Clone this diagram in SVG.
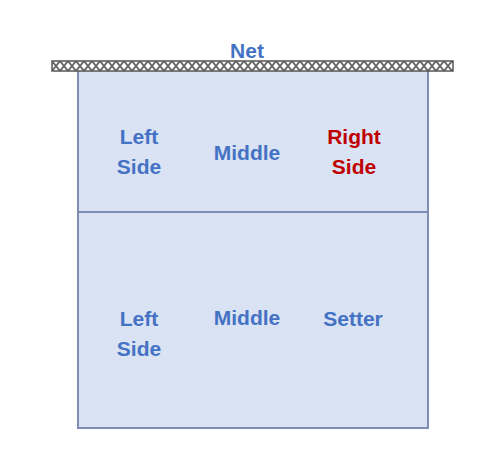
<svg xmlns="http://www.w3.org/2000/svg" width="500" height="474" viewBox="0 0 500 474">
<style>
.t{font-family:"Liberation Sans",sans-serif;font-weight:bold;font-size:21px;fill:#4472C4;text-anchor:middle}
.r{fill:#C00000}
</style>
<defs>
<pattern id="net" x="52" y="61" width="8" height="10" patternUnits="userSpaceOnUse">
<rect width="8" height="10" fill="#ffffff"/>
<path d="M0 0L8 10M8 0L0 10" stroke="#666" stroke-width="1.8"/>
</pattern>
</defs>
<rect width="500" height="474" fill="#ffffff"/>
<g id="court">
<rect x="78" y="68" width="350" height="360" fill="#DAE3F3" stroke="#7F8DB3" stroke-width="2"/>
<line x1="78" y1="212" x2="428" y2="212" stroke="#7F8DB3" stroke-width="2"/>
</g>
<g id="net-bar">
<rect x="52" y="61" width="401" height="10" fill="url(#net)" stroke="#555" stroke-width="1.5"/>
<text class="t" x="247" y="58">Net</text>
</g>
<g id="front-left"><text class="t" x="139" y="144">Left</text><text class="t" x="139" y="174">Side</text></g>
<g id="front-middle"><text class="t" x="247" y="160">Middle</text></g>
<g id="front-right"><text class="t r" x="354" y="144">Right</text><text class="t r" x="354" y="174">Side</text></g>
<g id="back-left"><text class="t" x="139" y="326">Left</text><text class="t" x="139" y="356">Side</text></g>
<g id="back-middle"><text class="t" x="247" y="325">Middle</text></g>
<g id="back-setter"><text class="t" x="353" y="326">Setter</text></g>
<g id="connectors"></g>
</svg>
